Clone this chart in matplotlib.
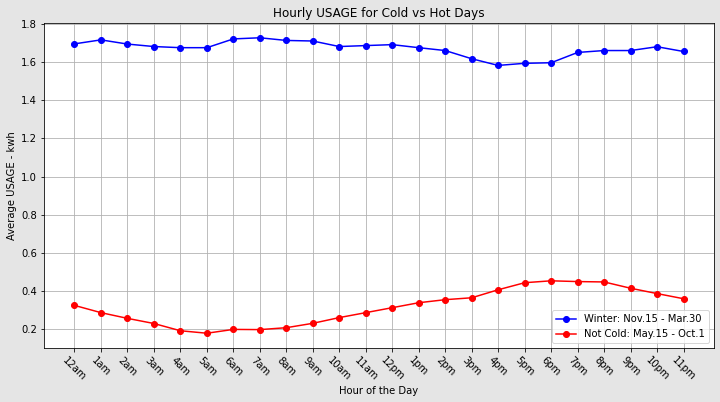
import matplotlib
matplotlib.use("Agg")
from matplotlib import pyplot as plt

hours = ["12am", "1am", "2am", "3am", "4am", "5am", "6am", "7am", "8am", "9am", "10am", "11am",
         "12pm", "1pm", "2pm", "3pm", "4pm", "5pm", "6pm", "7pm", "8pm", "9pm", "10pm", "11pm"]

winter = [1.696, 1.717, 1.695, 1.682, 1.676, 1.676, 1.722, 1.728, 1.714, 1.711, 1.682, 1.687,
          1.692, 1.676, 1.661, 1.618, 1.583, 1.594, 1.597, 1.651, 1.661, 1.661, 1.681, 1.656]
not_cold = [0.324, 0.286, 0.256, 0.229, 0.191, 0.178, 0.198, 0.197, 0.207, 0.230, 0.260, 0.286,
            0.312, 0.338, 0.354, 0.364, 0.406, 0.443, 0.453, 0.449, 0.447, 0.414, 0.386, 0.359]

fig = plt.figure(figsize=(10, 402 / 72), dpi=72, facecolor="#e5e5e5")
ax = fig.add_axes([44 / 720, 54 / 402, 670 / 720, 325 / 402])

x = list(range(len(hours)))
ax.plot(x, winter, color="blue", marker="o", markersize=6, label="Winter: Nov.15 - Mar.30")
ax.plot(x, not_cold, color="red", marker="o", markersize=6, label="Not Cold: May.15 - Oct.1")

ax.set_xticks(x)
ax.set_xticklabels(hours, rotation=-45, fontsize=10)
ax.tick_params(axis="y", labelsize=10)
ax.grid(True, color="#b0b0b0")
ax.set_title("Hourly USAGE for Cold vs Hot Days", fontsize=12)
ax.set_xlabel("Hour of the Day", fontsize=10)
ax.set_ylabel("Average USAGE - kwh", fontsize=10)
ax.legend(loc="lower right", fontsize=10)

plt.savefig("out.png", dpi=72, facecolor=fig.get_facecolor())
